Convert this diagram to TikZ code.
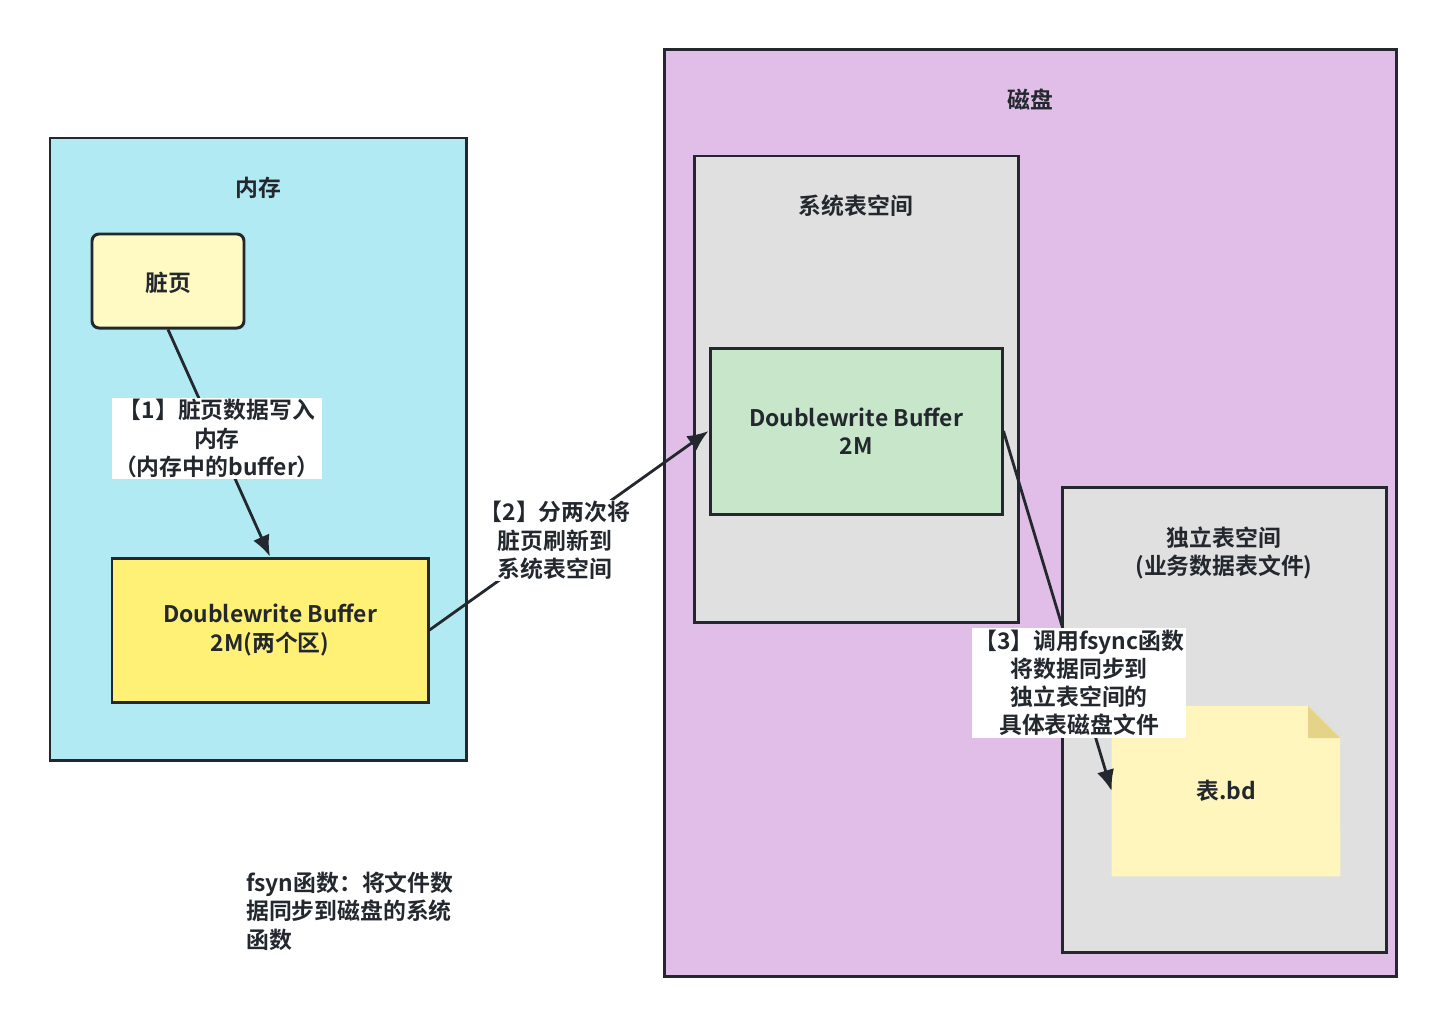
\documentclass[tikz,border=0pt]{standalone}
\usepackage{fontspec}
\setmainfont{Noto Sans CJK SC}[BoldFont={Noto Sans CJK SC Bold}]
\usetikzlibrary{arrows.meta,positioning}
\definecolor{edge}{HTML}{23272E}
\definecolor{memfill}{HTML}{B1EAF2}
\definecolor{diskfill}{HTML}{E1BEE7}
\definecolor{spacefill}{HTML}{E0E0E0}
\definecolor{pagefill}{HTML}{FFF9C4}
\definecolor{bufyellow}{HTML}{FFF176}
\definecolor{bufgreen}{HTML}{C8E6C9}
\definecolor{filefill}{HTML}{FFF6BE}
\definecolor{foldfill}{HTML}{E6D38A}

\begin{document}
\begin{tikzpicture}[x=0.02cm,y=-0.02cm,
    font=\fontsize{13pt}{16pt}\selectfont\bfseries,
    box/.style={draw=edge, line width=1.7pt, inner sep=0pt},
    lbl/.style={align=center, text=edge},
    tag/.style={align=center, text=edge, fill=white, inner sep=1pt},
    flow/.style={draw=edge, line width=1.6pt, -{Latex[length=12pt,width=10pt]}}]
    \useasboundingbox (0,0) rectangle (1446,1028);

    % memory side
    \node[box, fill=memfill, minimum width=416*0.02cm, minimum height=622*0.02cm] (mem) at (258,449) {};
    \node[lbl] (memlbl) at (258,188) {内存};
    \node[box, fill=pagefill, rounded corners=4pt, minimum width=152*0.02cm, minimum height=94*0.02cm] (zangye) at (168,281) {};
    \node[lbl] (zangyelbl) at (168,283) {脏页};
    \node[box, fill=bufyellow, minimum width=316*0.02cm, minimum height=144*0.02cm] (dwbL) at (270,630) {};
    \node[lbl] (dwbLlbl) at (270,630) {Doublewrite Buffer\\2M(两个区)};

    % disk side
    \node[box, fill=diskfill, minimum width=732*0.02cm, minimum height=927*0.02cm] (disk) at (1030,513) {};
    \node[lbl] (disklbl) at (1030,100) {磁盘};
    \node[box, fill=spacefill, minimum width=324*0.02cm, minimum height=466*0.02cm] (sys) at (856,389) {};
    \node[lbl] (syslbl) at (856,206) {系统表空间};
    \node[box, fill=bufgreen, minimum width=292*0.02cm, minimum height=166*0.02cm] (dwbS) at (856,431) {};
    \node[lbl] (dwbSlbl) at (856,431) {Doublewrite Buffer\\2M};
    \node[box, fill=spacefill, minimum width=324*0.02cm, minimum height=465*0.02cm] (ind) at (1224,720) {};
    \node[lbl] (indlbl) at (1224,553) {独立表空间\\(业务数据表文件)};

    % table file
    \node[minimum width=228*0.02cm, minimum height=170*0.02cm, inner sep=0pt] (file) at (1226,791) {};
    \fill[filefill] (file.north west) -- (1308,706) -- (1340,738) -- (file.south east) -- (file.south west) -- cycle;
    \fill[foldfill] (1308,706) -- (1340,738) -- (1308,738) -- cycle;
    \node[lbl] (filelbl) at (1226,791) {表.bd};

    % arrows
    \draw[flow] (zangye.south) -- node[tag, pos=0.48] {【1】脏页数据写入\\内存\\（内存中的buffer）} (dwbL.north);
    \draw[flow] (dwbL.east) -- node[tag, pos=0.45] {【2】分两次将\\脏页刷新到\\系统表空间} (dwbS.west);
    \draw[flow] (dwbS.east) -- node[tag, pos=0.7] {【3】调用fsync函数\\将数据同步到\\独立表空间的\\具体表磁盘文件} (file.west);

    % note
    \node[align=left, text=edge, anchor=north west] (note) at (240,866) {fsyn函数：将文件数\\据同步到磁盘的系统\\函数};
\end{tikzpicture}
\end{document}
